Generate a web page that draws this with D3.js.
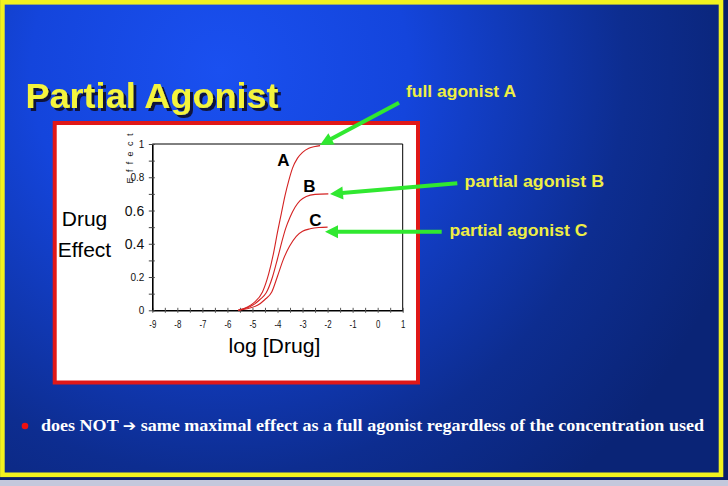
<!DOCTYPE html>
<html><head><meta charset="utf-8">
<script src="https://cdn.jsdelivr.net/npm/d3@7"></script>
<style>html,body{margin:0;padding:0;background:#0a1f6a;overflow:hidden}</style>
</head><body><svg id="c" width="728" height="486"></svg>
<script>
// ---------- data ----------
const seriesNames = ["A", "B", "C"];
const seriesA = [[-5.57,0],[-5.2,0.02],[-4.95,0.045],[-4.6,0.11],[-4.35,0.22],[-4.15,0.35],[-4.0,0.47],[-3.85,0.58],[-3.7,0.69],[-3.55,0.78],[-3.4,0.855],[-3.2,0.915],[-3.0,0.95],[-2.75,0.975],[-2.5,0.985],[-2.3,0.99]];
const seriesB = [[-5.57,0],[-5.0,0.03],[-4.7,0.065],[-4.45,0.105],[-4.2,0.2],[-4.0,0.31],[-3.83,0.41],[-3.68,0.49],[-3.5,0.56],[-3.3,0.62],[-3.1,0.66],[-2.85,0.685],[-2.5,0.697],[-1.97,0.70]];
const seriesC = [[-5.57,0],[-4.8,0.03],[-4.5,0.065],[-4.23,0.11],[-4.0,0.205],[-3.77,0.305],[-3.52,0.385],[-3.25,0.445],[-3.0,0.475],[-2.7,0.49],[-2.35,0.498],[-2.0,0.50]];
const xTickLabels = [-9,-8,-7,-6,-5,-4,-3,-2,-1,0,1];
const xMinorTicks = [-9,-8.5,-8,-7.5,-7,-6.5,-6,-5.5,-5,-4.5,-4,-3.5,-3,-2.5,-2,-1.5,-1,-0.5,0,0.5,1];
const yTickLabels = [0,0.2,0.4,0.6,0.8,1];
const yMinorTicks = [0,0.1,0.2,0.3,0.4,0.5,0.6,0.7,0.8,0.9,1];
const calloutLabels = ["full agonist A", "partial agonist B", "partial agonist C"];
const titleText = "Partial Agonist";
const yLabelLines = ["Drug", "Effect"];
const xLabelText = "log [Drug]";
const bulletBefore = "does NOT ";
const bulletArrow = "\u2794";
const bulletAfter = " same maximal effect as a full agonist regardless of the concentration used";

// ---------- page ----------
const svg = d3.select("#c");
const defs = svg.append("defs");
const rg = defs.append("radialGradient").attr("id","bg").attr("gradientUnits","userSpaceOnUse")
  .attr("cx",220).attr("cy",70).attr("r",540);
[[0,"#1a50f0"],[0.35,"#1445dc"],[0.75,"#0d2d90"],[1,"#0a2476"]].forEach(s=>rg.append("stop").attr("offset",s[0]).attr("stop-color",s[1]));
const flt = defs.append("filter").attr("id","sh").attr("x","-10%").attr("y","-20%").attr("width","130%").attr("height","150%");
flt.append("feDropShadow").attr("dx",3).attr("dy",3).attr("stdDeviation",0.6).attr("flood-color","#0a0a26").attr("flood-opacity",0.9);

svg.append("rect").attr("x",0).attr("y",0).attr("width",728).attr("height",486).attr("fill","#0a1f6a");
svg.append("rect").attr("x",0).attr("y",480).attr("width",728).attr("height",6).attr("fill","#c4c8dc");
svg.append("rect").attr("x",2.4).attr("y",2.3).attr("width",718.6).attr("height",472.5)
  .attr("fill","url(#bg)").attr("stroke","#f2f21e").attr("stroke-width",4.6);

// title
svg.append("text").attr("x",25.5).attr("y",108.3).attr("font-family","'Liberation Sans', Arial, sans-serif").attr("font-weight","bold")
  .attr("font-size",35).attr("textLength",253).attr("lengthAdjust","spacingAndGlyphs")
  .attr("fill","#f4f43c").attr("filter","url(#sh)").text(titleText);

// red framed panel
svg.append("rect").attr("x",54.7).attr("y",123).attr("width",363.3).attr("height",259.5)
  .attr("fill","#ffffff").attr("stroke","#e01818").attr("stroke-width",4);

// ---------- chart ----------
const x = d3.scaleLinear().domain([-9,1]).range([152.3,402.7]);
const y = d3.scaleLinear().domain([0,1]).range([310.3,144]);
const font = "'Liberation Sans', Arial, sans-serif";

// frame top/right
svg.append("path").attr("d",`M${x(-9)},${y(1)}H${x(1)}V${y(0)}`).attr("fill","none").attr("stroke","#000").attr("stroke-width",1);

const isLabel = (arr,d)=>arr.some(v=>Math.abs(v-d)<1e-9);

const xAxis = svg.append("g").attr("transform",`translate(0,${y(0)})`)
  .call(d3.axisBottom(x).tickValues(xMinorTicks).tickSizeInner(2.5).tickSizeOuter(0)
    .tickFormat(d=>isLabel(xTickLabels,d)?String(d):""));
xAxis.select(".domain").attr("stroke","#000").attr("stroke-width",1.6);
xAxis.selectAll(".tick line").attr("y1",-2.5).attr("stroke","#555");
xAxis.selectAll(".tick text").attr("y",0).attr("dy",null).attr("transform","translate(0,18) scale(0.75,1)")
  .attr("font-family",font).attr("font-size",10.5).attr("fill","#111");

const yAxis = svg.append("g").attr("transform",`translate(${x(-9)},0)`)
  .call(d3.axisLeft(y).tickValues(yMinorTicks).tickSizeInner(3.5).tickSizeOuter(0)
    .tickFormat(d=>isLabel(yTickLabels,d)?String(d):""));
yAxis.select(".domain").attr("stroke","#000").attr("stroke-width",1.6);
yAxis.selectAll(".tick line").attr("x1",2.5).attr("stroke","#444");
yAxis.selectAll(".tick text").attr("x",-8).attr("dy","0.35em").attr("font-family",font).attr("fill","#111")
  .attr("font-size",d=>(Math.abs(d-0.4)<1e-9||Math.abs(d-0.6)<1e-9)?14:10);

// tiny rotated axis title
svg.append("text").attr("transform","translate(133,183.5) rotate(-90)").attr("font-family",font).attr("font-size",9)
  .attr("textLength",50).attr("lengthAdjust","spacing").attr("fill","#111").text(yLabelLines[1]);

// big axis labels
svg.append("text").attr("x",84.5).attr("y",226).attr("text-anchor","middle").attr("font-family",font).attr("font-size",21).attr("fill","#000").text(yLabelLines[0]);
svg.append("text").attr("x",84.5).attr("y",256.5).attr("text-anchor","middle").attr("font-family",font).attr("font-size",21).attr("fill","#000").text(yLabelLines[1]);
svg.append("text").attr("x",228.5).attr("y",353.3).attr("font-family",font).attr("font-size",21)
  .attr("textLength",92).attr("lengthAdjust","spacingAndGlyphs").attr("fill","#000").text(xLabelText);

// curves
const line = d3.line().x(d=>x(d[0])).y(d=>y(d[1])).curve(d3.curveMonotoneX);
[seriesA,seriesB,seriesC].forEach(s=>{
  svg.append("path").datum(s).attr("d",line).attr("fill","none").attr("stroke","#d42222").attr("stroke-width",1.1);
});

// curve letters
const letterPos = [[283.5,166],[309.5,191.7],[315.5,226]];
seriesNames.forEach((n,i)=>{
  svg.append("text").attr("x",letterPos[i][0]).attr("y",letterPos[i][1]).attr("text-anchor","middle")
    .attr("font-family",font).attr("font-weight","bold").attr("font-size",17).attr("fill","#000").text(n);
});

// callouts
const callPos = [[406,96.5,110],[464.5,187.3,139.5],[449.5,236,138]];
calloutLabels.forEach((t,i)=>{
  svg.append("text").attr("x",callPos[i][0]).attr("y",callPos[i][1]).attr("font-family",font).attr("font-weight","bold")
    .attr("font-size",17).attr("textLength",callPos[i][2]).attr("lengthAdjust","spacingAndGlyphs").attr("fill","#eeee44").text(t);
});

// green arrows
const arrows = [[399,102.7,320,145],[457.3,183.3,330,194],[441.7,231.7,325,231.7]];
const green = "#30e830";
arrows.forEach(a=>{
  const [x0,y0,x1,y1]=a; const dx=x1-x0, dy=y1-y0, L=Math.hypot(dx,dy); const ux=dx/L, uy=dy/L;
  const hl=13, hw=6.5; const bx=x1-ux*hl, by=y1-uy*hl;
  svg.append("line").attr("x1",x0).attr("y1",y0).attr("x2",bx+ux*1).attr("y2",by+uy*1).attr("stroke",green).attr("stroke-width",4);
  svg.append("path").attr("d",`M${x1},${y1}L${bx-uy*hw},${by+ux*hw}L${bx+uy*hw},${by-ux*hw}Z`).attr("fill",green);
});

// bullet line
svg.append("circle").attr("cx",25).attr("cy",426).attr("r",3.3).attr("fill","#ee1111");
const bt = svg.append("text").attr("x",41).attr("y",430.7).attr("font-family","'Liberation Serif', 'Times New Roman', serif").attr("font-weight","bold")
  .attr("font-size",17).attr("textLength",663).attr("lengthAdjust","spacingAndGlyphs").attr("fill","#ffffff");
bt.append("tspan").text(bulletBefore);
bt.append("tspan").attr("font-family","'DejaVu Sans', sans-serif").attr("font-size",15).text(bulletArrow);
bt.append("tspan").text(bulletAfter);
</script></body></html>
